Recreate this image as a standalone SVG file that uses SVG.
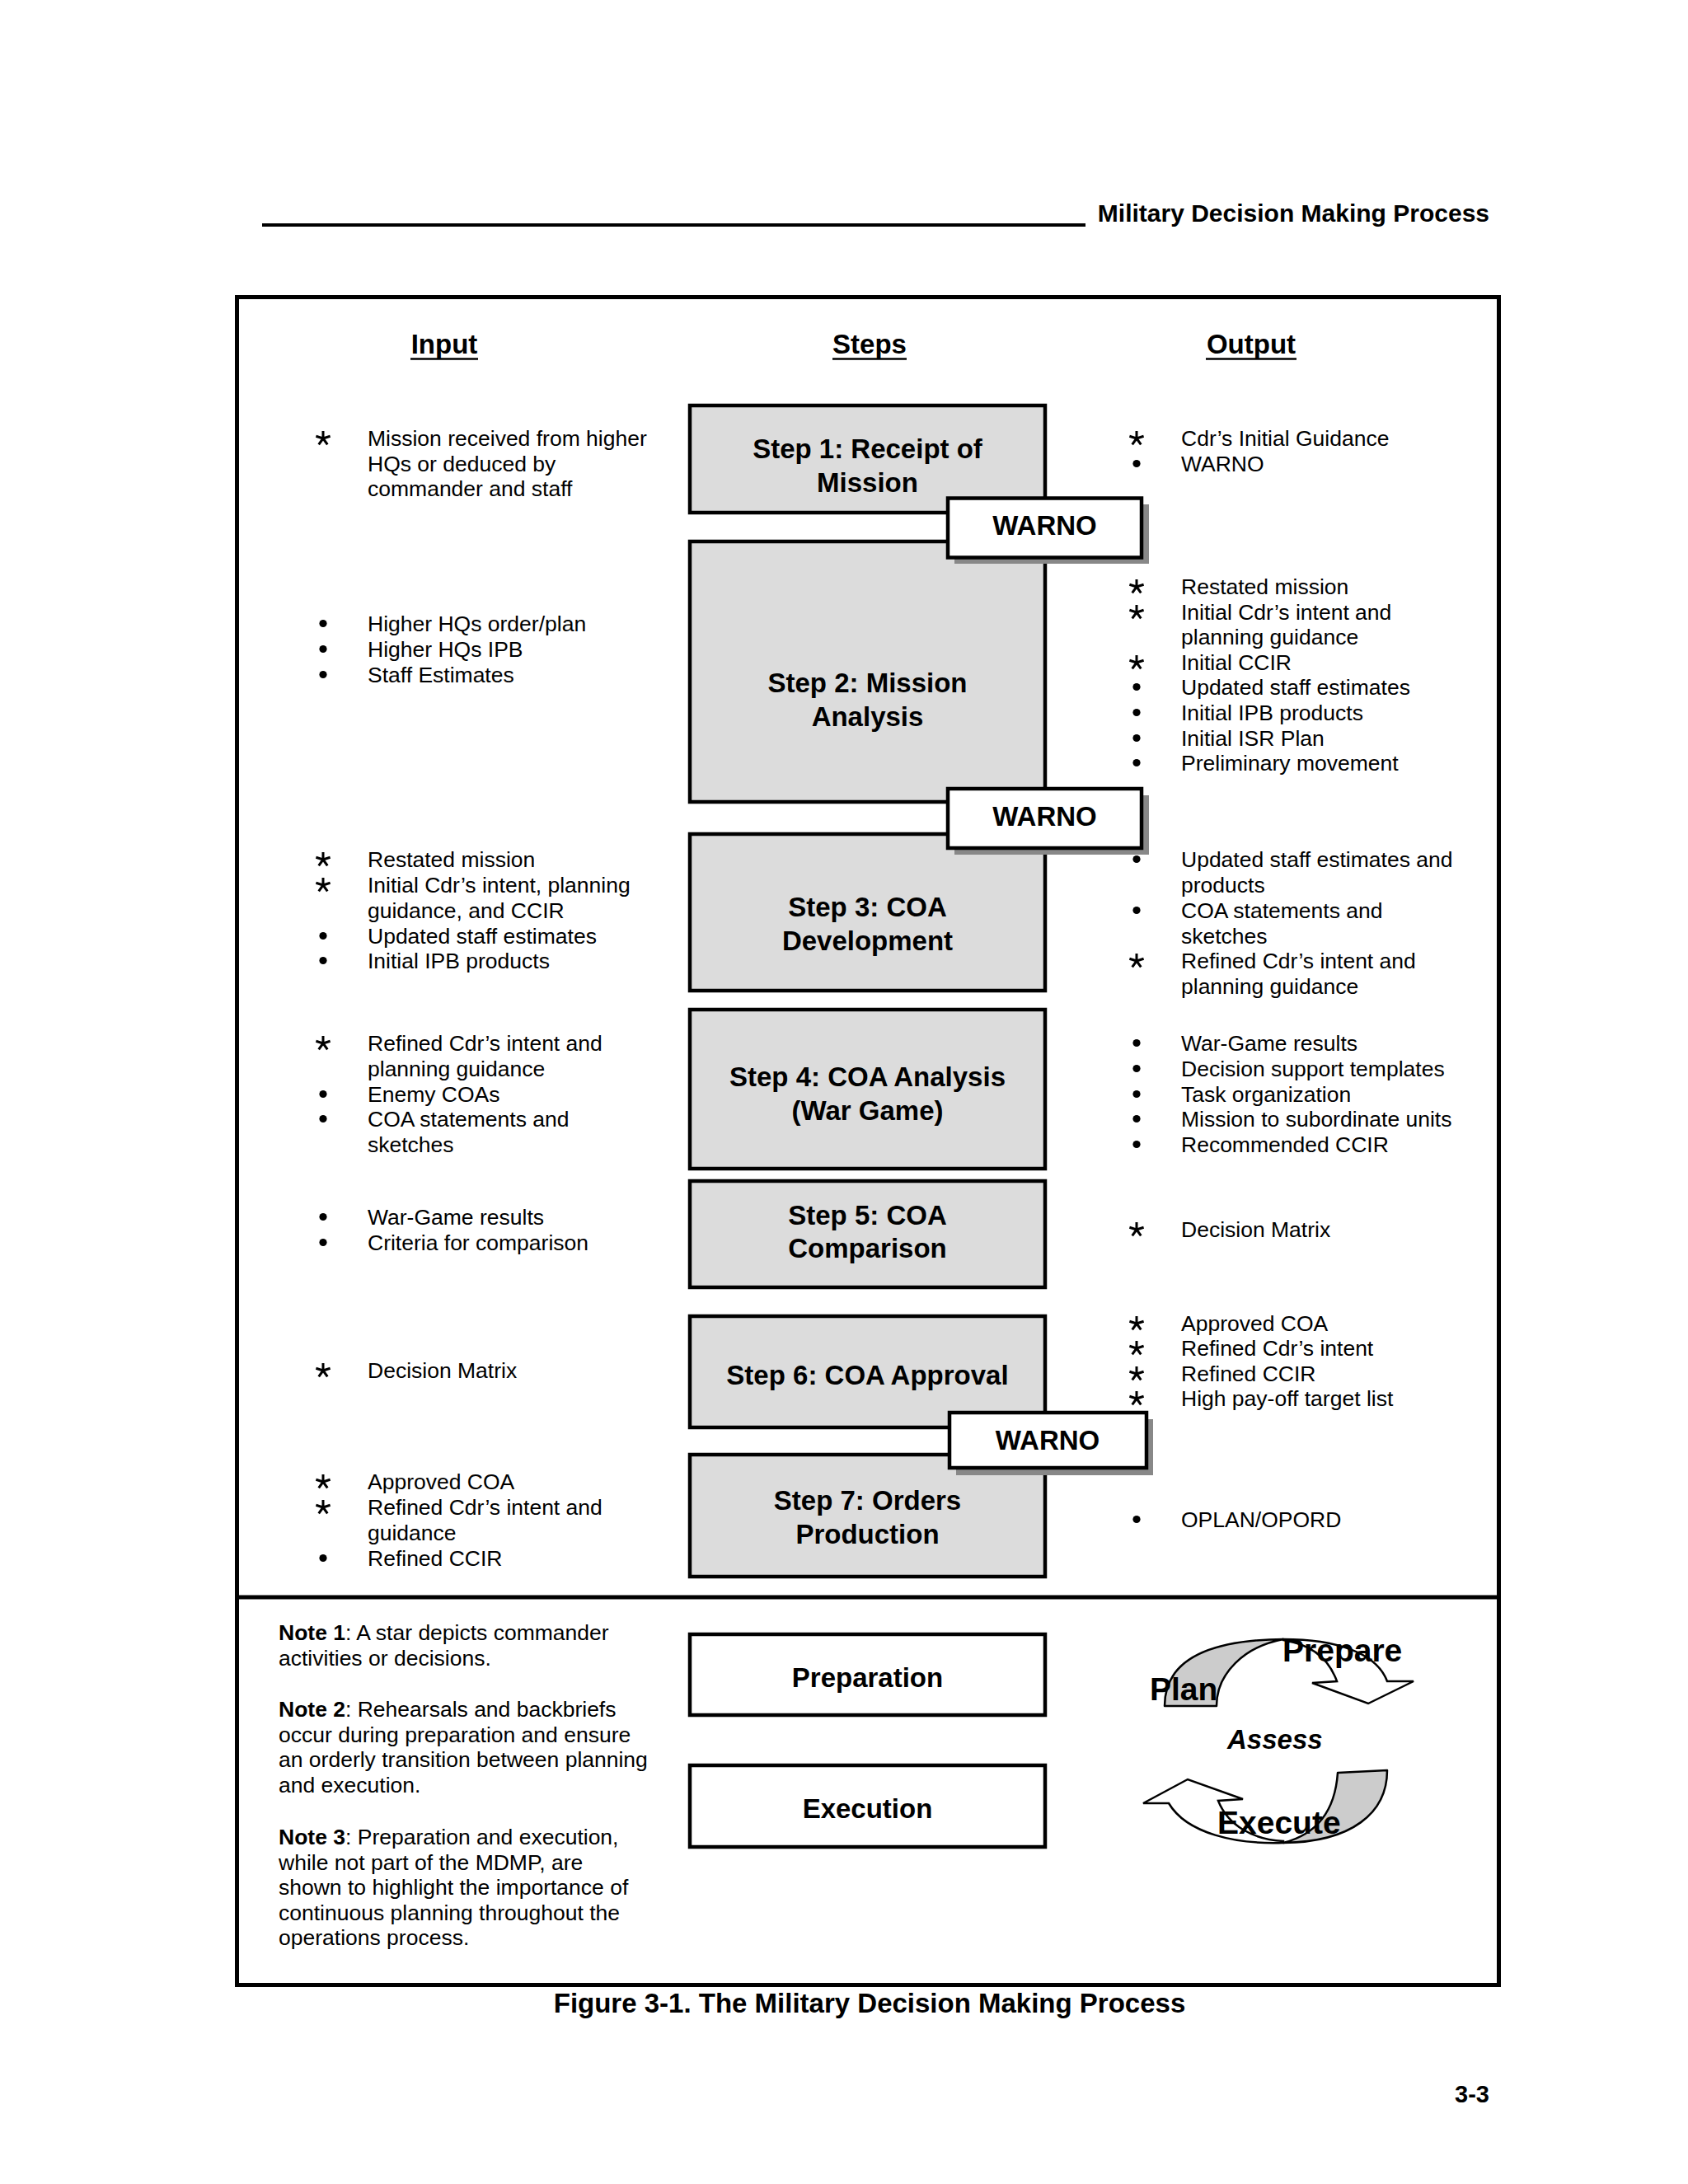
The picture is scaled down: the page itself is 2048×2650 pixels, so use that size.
<svg xmlns="http://www.w3.org/2000/svg" xmlns:xlink="http://www.w3.org/1999/xlink" width="2048" height="2650" viewBox="0 0 2048 2650">
<style>
text{font-family:"Liberation Sans",Arial,sans-serif;fill:#000}
.b{font-size:26.5px}
.bold{font-weight:bold}
.hd{font-size:33px;font-weight:bold;text-anchor:middle}
.st{font-size:33px;font-weight:bold;text-anchor:middle}
.step{fill:#dcdcdc;stroke:#000;stroke-width:4.5}
.wbox{fill:#fff;stroke:#000;stroke-width:4.5}
.shadow{fill:#888}
.plain{fill:#fff;stroke:#000;stroke-width:4.5}
.cyc{font-size:39px;font-weight:bold}
.arrowg{fill:#cccccc;stroke:#000;stroke-width:2.5;stroke-linejoin:round}
.arroww{fill:#fff;stroke:#000;stroke-width:2.5;stroke-linejoin:miter}
</style>
<defs>
<g id="star"><path d="M0,-9 L0,0 M0,0 L8.6,-2.8 M0,0 L5.3,7.3 M0,0 L-5.3,7.3 M0,0 L-8.6,-2.8" stroke="#000" stroke-width="3" fill="none"/></g>
<circle id="dot" cx="0" cy="0" r="4.6" fill="#000"/>
</defs>
<rect width="2048" height="2650" fill="#fff"/>

<g id="page-header">
<line x1="318" y1="273" x2="1317" y2="273" stroke="#000" stroke-width="4"/>
<text x="1807" y="269" font-size="30" font-weight="bold" text-anchor="end">Military Decision Making Process</text>
</g>

<g id="frame">
<rect x="287.5" y="360.5" width="1531" height="2048" fill="none" stroke="#000" stroke-width="5"/>
<line x1="287.5" y1="1938" x2="1818.5" y2="1938" stroke="#000" stroke-width="5"/>
</g>

<g id="headings">
<text class="hd" x="539" y="429">Input</text>
<line x1="498" y1="435.5" x2="580" y2="435.5" stroke="#000" stroke-width="2.5"/>
<text class="hd" x="1055" y="429">Steps</text>
<line x1="1010" y1="435.5" x2="1100" y2="435.5" stroke="#000" stroke-width="2.5"/>
<text class="hd" x="1518" y="429">Output</text>
<line x1="1463" y1="435.5" x2="1573" y2="435.5" stroke="#000" stroke-width="2.5"/>
</g>

<g id="connectors"></g>

<g id="step1"><rect class="step" x="837" y="492" width="431" height="130"/><text class="st" x="1052.5" y="556">Step 1: Receipt of</text><text class="st" x="1052.5" y="597">Mission</text></g>
<g id="step2"><rect class="step" x="837" y="657" width="431" height="316"/><text class="st" x="1052.5" y="840">Step 2: Mission</text><text class="st" x="1052.5" y="881">Analysis</text></g>
<g id="step3"><rect class="step" x="837" y="1012" width="431" height="190"/><text class="st" x="1052.5" y="1112">Step 3: COA</text><text class="st" x="1052.5" y="1153">Development</text></g>
<g id="step4"><rect class="step" x="837" y="1225" width="431" height="193"/><text class="st" x="1052.5" y="1318">Step 4: COA Analysis</text><text class="st" x="1052.5" y="1359">(War Game)</text></g>
<g id="step5"><rect class="step" x="837" y="1433" width="431" height="129"/><text class="st" x="1052.5" y="1486">Step 5: COA</text><text class="st" x="1052.5" y="1526">Comparison</text></g>
<g id="step6"><rect class="step" x="837" y="1597" width="431" height="135"/><text class="st" x="1052.5" y="1680">Step 6: COA Approval</text></g>
<g id="step7"><rect class="step" x="837" y="1765" width="431" height="148"/><text class="st" x="1052.5" y="1832">Step 7: Orders</text><text class="st" x="1052.5" y="1873">Production</text></g>

<g id="warno1"><rect class="shadow" x="1158" y="612" width="236" height="72"/><rect class="wbox" x="1150" y="604.5" width="235" height="72"/><text class="st" x="1267.5" y="649">WARNO</text></g>
<g id="warno2"><rect class="shadow" x="1158" y="965" width="236" height="72"/><rect class="wbox" x="1150" y="957" width="235" height="72"/><text class="st" x="1267.5" y="1002">WARNO</text></g>
<g id="warno3"><rect class="shadow" x="1160" y="1722" width="239" height="68"/><rect class="wbox" x="1152" y="1714" width="239" height="67"/><text class="st" x="1271" y="1759">WARNO</text></g>

<g id="preparation"><rect class="plain" x="837" y="1983" width="431" height="98"/><text class="st" x="1052.5" y="2047">Preparation</text></g>
<g id="execution"><rect class="plain" x="837" y="2142" width="431" height="99"/><text class="st" x="1052.5" y="2206">Execution</text></g>

<g id="input1" class="b">
<use xlink:href="#star" x="392" y="532"/>
<text class="b" x="446" y="541">Mission received from higher</text>
<text class="b" x="446" y="572">HQs or deduced by</text>
<text class="b" x="446" y="602">commander and staff</text>
</g>
<g id="input2">
<use xlink:href="#dot" x="392" y="756.5"/><text class="b" x="446" y="766">Higher HQs order/plan</text>
<use xlink:href="#dot" x="392" y="787.5"/><text class="b" x="446" y="797">Higher HQs IPB</text>
<use xlink:href="#dot" x="392" y="818.5"/><text class="b" x="446" y="828">Staff Estimates</text>
</g>
<g id="input3">
<use xlink:href="#star" x="392" y="1043"/><text class="b" x="446" y="1052">Restated mission</text>
<use xlink:href="#star" x="392" y="1074"/><text class="b" x="446" y="1083">Initial Cdr’s intent, planning</text>
<text class="b" x="446" y="1114">guidance, and CCIR</text>
<use xlink:href="#dot" x="392" y="1135.5"/><text class="b" x="446" y="1145">Updated staff estimates</text>
<use xlink:href="#dot" x="392" y="1165.5"/><text class="b" x="446" y="1175">Initial IPB products</text>
</g>
<g id="input4">
<use xlink:href="#star" x="392" y="1266"/><text class="b" x="446" y="1275">Refined Cdr’s intent and</text>
<text class="b" x="446" y="1306">planning guidance</text>
<use xlink:href="#dot" x="392" y="1327.5"/><text class="b" x="446" y="1337">Enemy COAs</text>
<use xlink:href="#dot" x="392" y="1357.5"/><text class="b" x="446" y="1367">COA statements and</text>
<text class="b" x="446" y="1398">sketches</text>
</g>
<g id="input5">
<use xlink:href="#dot" x="392" y="1476.5"/><text class="b" x="446" y="1486">War-Game results</text>
<use xlink:href="#dot" x="392" y="1507.5"/><text class="b" x="446" y="1517">Criteria for comparison</text>
</g>
<g id="input6">
<use xlink:href="#star" x="392" y="1663"/><text class="b" x="446" y="1672">Decision Matrix</text>
</g>
<g id="input7">
<use xlink:href="#star" x="392" y="1798"/><text class="b" x="446" y="1807">Approved COA</text>
<use xlink:href="#star" x="392" y="1829"/><text class="b" x="446" y="1838">Refined Cdr’s intent and</text>
<text class="b" x="446" y="1869">guidance</text>
<use xlink:href="#dot" x="392" y="1890.5"/><text class="b" x="446" y="1900">Refined CCIR</text>
</g>

<g id="output1">
<use xlink:href="#star" x="1379" y="532"/><text class="b" x="1433" y="541">Cdr’s Initial Guidance</text>
<use xlink:href="#dot" x="1379" y="562.5"/><text class="b" x="1433" y="572">WARNO</text>
</g>
<g id="output2">
<use xlink:href="#star" x="1379" y="712"/><text class="b" x="1433" y="721">Restated mission</text>
<use xlink:href="#star" x="1379" y="743"/><text class="b" x="1433" y="752">Initial Cdr’s intent and</text>
<text class="b" x="1433" y="782">planning guidance</text>
<use xlink:href="#star" x="1379" y="804"/><text class="b" x="1433" y="813">Initial CCIR</text>
<use xlink:href="#dot" x="1379" y="833.5"/><text class="b" x="1433" y="843">Updated staff estimates</text>
<use xlink:href="#dot" x="1379" y="864.5"/><text class="b" x="1433" y="874">Initial IPB products</text>
<use xlink:href="#dot" x="1379" y="895.5"/><text class="b" x="1433" y="905">Initial ISR Plan</text>
<use xlink:href="#dot" x="1379" y="925.5"/><text class="b" x="1433" y="935">Preliminary movement</text>
</g>
<g id="output3">
<use xlink:href="#dot" x="1379" y="1042.5"/><text class="b" x="1433" y="1052">Updated staff estimates and</text>
<text class="b" x="1433" y="1083">products</text>
<use xlink:href="#dot" x="1379" y="1104.5"/><text class="b" x="1433" y="1114">COA statements and</text>
<text class="b" x="1433" y="1145">sketches</text>
<use xlink:href="#star" x="1379" y="1166"/><text class="b" x="1433" y="1175">Refined Cdr’s intent and</text>
<text class="b" x="1433" y="1206">planning guidance</text>
</g>
<g id="output4">
<use xlink:href="#dot" x="1379" y="1265.5"/><text class="b" x="1433" y="1275">War-Game results</text>
<use xlink:href="#dot" x="1379" y="1296.5"/><text class="b" x="1433" y="1306">Decision support templates</text>
<use xlink:href="#dot" x="1379" y="1327.5"/><text class="b" x="1433" y="1337">Task organization</text>
<use xlink:href="#dot" x="1379" y="1357.5"/><text class="b" x="1433" y="1367">Mission to subordinate units</text>
<use xlink:href="#dot" x="1379" y="1388.5"/><text class="b" x="1433" y="1398">Recommended CCIR</text>
</g>
<g id="output5">
<use xlink:href="#star" x="1379" y="1492"/><text class="b" x="1433" y="1501">Decision Matrix</text>
</g>
<g id="output6">
<use xlink:href="#star" x="1379" y="1606"/><text class="b" x="1433" y="1615">Approved COA</text>
<use xlink:href="#star" x="1379" y="1636"/><text class="b" x="1433" y="1645">Refined Cdr’s intent</text>
<use xlink:href="#star" x="1379" y="1667"/><text class="b" x="1433" y="1676">Refined CCIR</text>
<use xlink:href="#star" x="1379" y="1697"/><text class="b" x="1433" y="1706">High pay-off target list</text>
</g>
<g id="output7">
<use xlink:href="#dot" x="1379" y="1843.5"/><text class="b" x="1433" y="1853">OPLAN/OPORD</text>
</g>

<g id="notes">
<text class="b" x="338" y="1990"><tspan class="bold">Note 1</tspan>: A star depicts commander</text>
<text class="b" x="338" y="2021">activities or decisions.</text>
<text class="b" x="338" y="2083"><tspan class="bold">Note 2</tspan>: Rehearsals and backbriefs</text>
<text class="b" x="338" y="2114">occur during preparation and ensure</text>
<text class="b" x="338" y="2144">an orderly transition between planning</text>
<text class="b" x="338" y="2175">and execution.</text>
<text class="b" x="338" y="2238"><tspan class="bold">Note 3</tspan>: Preparation and execution,</text>
<text class="b" x="338" y="2269">while not part of the MDMP, are</text>
<text class="b" x="338" y="2299">shown to highlight the importance of</text>
<text class="b" x="338" y="2330">continuous planning throughout the</text>
<text class="b" x="338" y="2360">operations process.</text>
</g>

<g id="cycle">
<path class="arrowg" d="M1413,2070 C1413,2020 1455,1990 1557,1989 C1510,1998 1476,2030 1476,2070 Z"/>
<path class="arroww" d="M1557,1989 C1620,1989 1670,2005 1683,2040 L1715,2040 L1660,2067 L1592,2042 L1622,2040 C1612,2012 1590,1995 1557,1990 Z"/>
<path class="arrowg" d="M1623,2151 L1683,2148 C1683,2200 1640,2235 1557,2236 C1600,2225 1620,2195 1623,2151 Z"/>
<path class="arroww" d="M1557,2236 C1500,2238 1440,2225 1418,2188 L1387,2188 L1441,2159 L1508,2183 L1478,2185 C1490,2215 1520,2232 1557,2234 Z"/>
<text class="cyc" x="1395" y="2063">Plan</text>
<text class="cyc" x="1556" y="2016">Prepare</text>
<text x="1489" y="2122" font-size="33" font-weight="bold" font-style="italic">Assess</text>
<text class="cyc" x="1477" y="2225">Execute</text>
</g>

<g id="caption">
<text x="1055" y="2442" font-size="33" font-weight="bold" text-anchor="middle">Figure 3-1. The Military Decision Making Process</text>
<text x="1807" y="2551" font-size="29" font-weight="bold" text-anchor="end">3-3</text>
</g>
</svg>
